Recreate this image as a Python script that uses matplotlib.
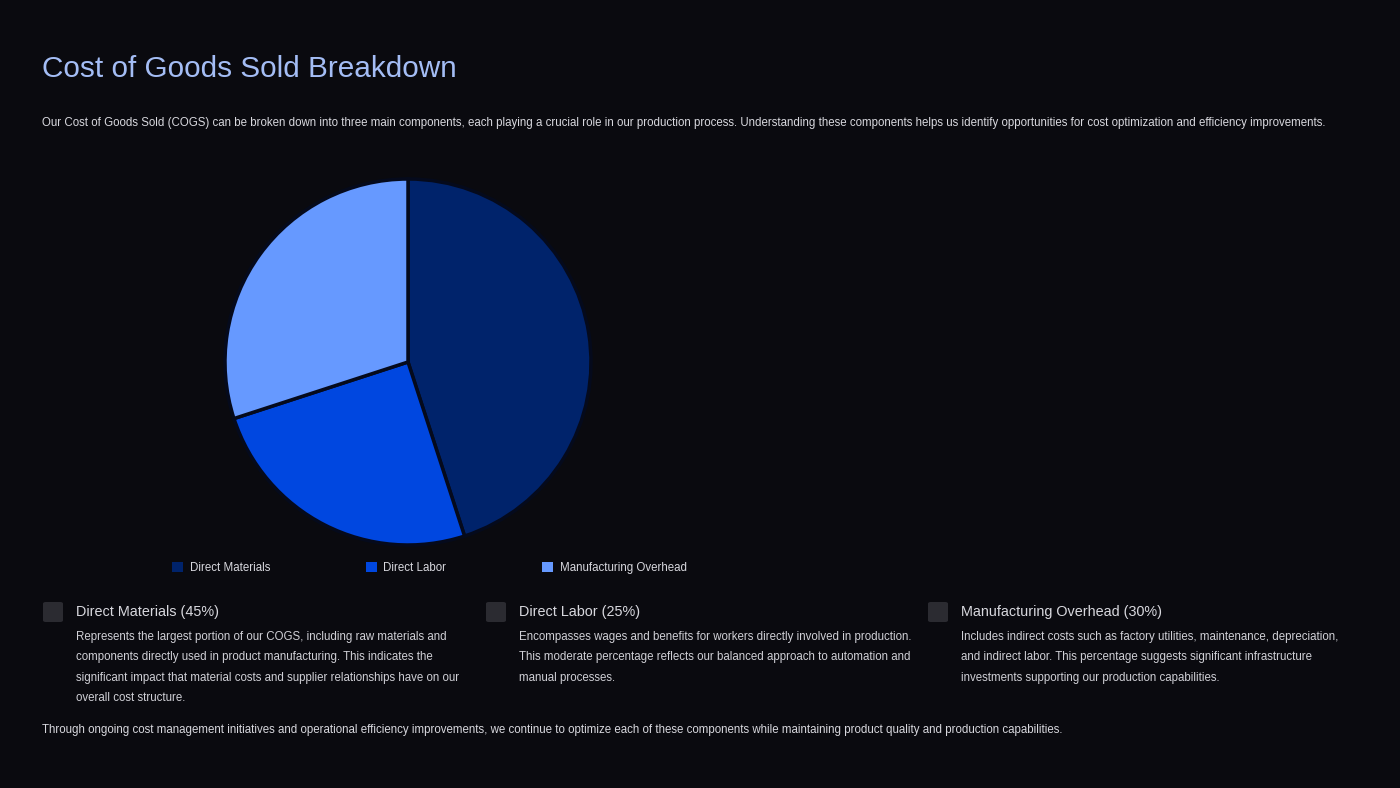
import matplotlib
matplotlib.use('Agg')
import matplotlib.pyplot as plt
from matplotlib.patches import FancyBboxPatch

plt.rcParams['font.family'] = ['Liberation Sans', 'DejaVu Sans']

# data
categories = ['Direct Materials', 'Direct Labor', 'Manufacturing Overhead']
shares = [45, 25, 30]
colors = ['#00236b', '#0047e0', '#6699ff']

title = 'Cost of Goods Sold Breakdown'
intro = ('Our Cost of Goods Sold (COGS) can be broken down into three main components, each playing a crucial role '
         'in our production process. Understanding these components helps us identify opportunities for cost '
         'optimization and efficiency improvements.')
card_text = [
    'Represents the largest portion of our COGS, including raw materials and\n'
    'components directly used in product manufacturing. This indicates the\n'
    'significant impact that material costs and supplier relationships have on our\n'
    'overall cost structure.',
    'Encompasses wages and benefits for workers directly involved in production.\n'
    'This moderate percentage reflects our balanced approach to automation and\n'
    'manual processes.',
    'Includes indirect costs such as factory utilities, maintenance, depreciation,\n'
    'and indirect labor. This percentage suggests significant infrastructure\n'
    'investments supporting our production capabilities.',
]
closing = ('Through ongoing cost management initiatives and operational efficiency improvements, we continue to '
           'optimize each of these components while maintaining product quality and production capabilities.')

bg = '#0a0a0f'
W, H = 1400, 788
fig = plt.figure(figsize=(14, 7.88), dpi=100, facecolor=bg)


def fx(px):
    return px / W


def fy(py):
    return 1 - py / H


fig.text(fx(42), fy(69), title, fontsize=21.4, color='#a4bdf5', va='center', ha='left')
fig.text(fx(42), fy(123), intro, fontsize=8.32, color='#d8d8de', va='center', ha='left')

# pie
cx, cy, r = 408, 362, 183
ax = fig.add_axes([fx(cx - r), fy(cy + r), fx(2 * r), (2 * r) / H])
ax.set_facecolor(bg)
wedges, _ = ax.pie(shares, colors=colors, startangle=90, counterclock=False, radius=1,
                   wedgeprops=dict(edgecolor='#050a1c', linewidth=2.5))
ax.set_xlim(-1, 1)
ax.set_ylim(-1, 1)
ax.set_aspect('equal')
ax.axis('off')

leg = fig.legend(wedges, categories, loc='center left', bbox_to_anchor=(fx(162), fy(568)),
                 ncol=3, frameon=False, fontsize=8.32, labelcolor='#d8d8de',
                 handlelength=0.95, handleheight=0.95, handletextpad=0.55, columnspacing=8.3)
for h in leg.legend_handles:
    h.set_edgecolor('none')

# cards
card_x = [42, 485, 927]
for x, name, pct, txt in zip(card_x, categories, shares, card_text):
    sq = FancyBboxPatch((fx(x + 1), fy(622)), fx(20), 20 / H,
                        boxstyle='round,pad=0,rounding_size=0.002',
                        transform=fig.transFigure, facecolor='#2b2b31', edgecolor='none')
    fig.patches.append(sq)
    fig.text(fx(x + 34), fy(612), f'{name} ({pct}%)', fontsize=10.4, color='#d8d8de',
             va='center', ha='left')
    fig.text(fx(x + 34), fy(631), txt, fontsize=8.32, color='#d0d0d6', va='top', ha='left',
             linespacing=1.93)

fig.text(fx(42), fy(730), closing, fontsize=8.32, color='#d8d8de', va='center', ha='left')

fig.savefig('out.png', dpi=100, facecolor=bg)
